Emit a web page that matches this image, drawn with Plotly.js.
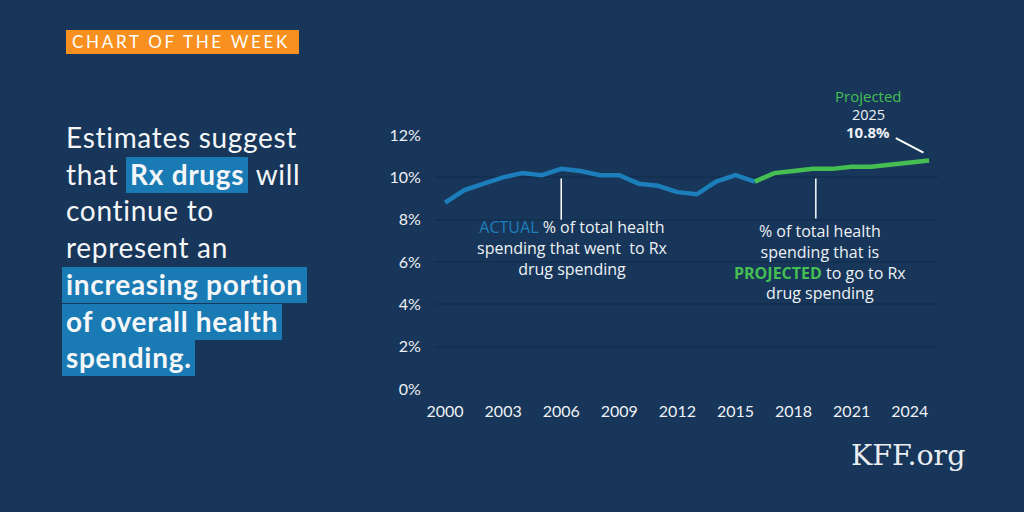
<!DOCTYPE html>
<html>
<head>
<meta charset="utf-8">
<script src="https://cdn.plot.ly/plotly-3.0.1.min.js"></script>
<style>
  html, body { margin: 0; padding: 0; background: #173659; }
  #page { position: relative; width: 1024px; height: 512px; overflow: hidden; background: #173659; }
  #chart { position: absolute; left: 0; top: 0; width: 1024px; height: 512px; }
  .overlay { position: absolute; pointer-events: none; z-index: 5; }
  #badge {
    left: 66px; top: 30px; width: 233px; height: 24px;
    background: #f7901e; color: #ffffff;
    font-family: Lato, "Open Sans", sans-serif; font-size: 17px;
    letter-spacing: 2.7px; line-height: 24px; box-sizing: border-box; padding-left: 6px;
    white-space: nowrap;
  }
  #headline {
    left: 66px; top: 119px; width: 320px;
    font-family: Lato, "Open Sans", sans-serif; font-size: 28px; line-height: 36.7px;
    letter-spacing: 0.7px; color: #f4f6f8; white-space: nowrap;
  }
  .hl { background: #1a7bb4; font-weight: 700; padding: 0 4px 2px 4px; }
  .hl.first { margin-left: -4px; }
  #brand {
    left: 851px; top: 439px;
    font-family: "DejaVu Serif", "Liberation Serif", serif; font-size: 28.5px;
    color: #e9edf2;
  }
</style>
</head>
<body>
<div id="page">
  <div id="chart"></div>
  <div id="badge" class="overlay">CHART OF THE WEEK</div>
  <div id="headline" class="overlay">Estimates suggest<br>that <span class="hl">Rx drugs</span> will<br>continue to<br>represent an<br><span class="hl first">increasing portion</span><br><span class="hl first">of overall health</span><br><span class="hl first">spending.</span></div>
  <div id="brand" class="overlay">KFF.org</div>
</div>
<script>
// Share of total health spending that goes to prescription drugs (%)
const actualYears = [2000, 2001, 2002, 2003, 2004, 2005, 2006, 2007, 2008,
                     2009, 2010, 2011, 2012, 2013, 2014, 2015, 2016];
const actualShare = [8.8, 9.4, 9.7, 10.0, 10.2, 10.1, 10.4, 10.3, 10.1,
                     10.1, 9.7, 9.6, 9.3, 9.2, 9.8, 10.1, 9.8];

const projectedYears = [2016, 2017, 2018, 2019, 2020, 2021, 2022, 2023, 2024, 2025];
const projectedShare = [9.8, 10.2, 10.3, 10.4, 10.4, 10.5, 10.5, 10.6, 10.7, 10.8];

const xTickYears = [2000, 2003, 2006, 2009, 2012, 2015, 2018, 2021, 2024];
const yTicks = [0, 2, 4, 6, 8, 10, 12];

// Callout text, one entry per line
const actualNote = ['<span style="color:#1f7fbd">ACTUAL</span> % of total health',
                    'spending that went&nbsp; to Rx',
                    'drug spending'];
const projectedNote = ['% of total health',
                       'spending that is',
                       '<b><span style="color:#45be52">PROJECTED</span></b> to go to Rx',
                       'drug spending'];

const BG = '#173659';
const BLUE = '#1c7eba';
const GREEN = '#45be52';
const TEXT = '#eef1f5';
const FONT = 'Lato, "Open Sans", sans-serif';
const NOTE_FONT = '"Open Sans", Lato, sans-serif';

const lastYear = projectedYears[projectedYears.length - 1];
const lastShare = projectedShare[projectedShare.length - 1];

const traces = [
  {
    x: actualYears, y: actualShare, type: 'scatter', mode: 'lines',
    line: { color: BLUE, width: 4.5 }, hoverinfo: 'skip', showlegend: false
  },
  {
    x: projectedYears, y: projectedShare, type: 'scatter', mode: 'lines',
    line: { color: GREEN, width: 4.5 }, hoverinfo: 'skip', showlegend: false
  }
];

const annotations = [
  { xref: 'x', yref: 'y', x: 2006.56, y: 6.65, xanchor: 'center', yanchor: 'middle',
    showarrow: false, align: 'center',
    font: { family: NOTE_FONT, size: 16, color: TEXT }, text: actualNote.join('<br>') },
  { xref: 'x', yref: 'y', x: 2019.37, y: 6.01, xanchor: 'center', yanchor: 'middle',
    showarrow: false, align: 'center',
    font: { family: NOTE_FONT, size: 16, color: TEXT }, text: projectedNote.join('<br>') },
  { xref: 'x', yref: 'paper', x: 2021.85, y: 1.155, xanchor: 'center', yanchor: 'middle',
    showarrow: false, font: { family: NOTE_FONT, size: 15, color: GREEN }, text: 'Projected' },
  { xref: 'x', yref: 'paper', x: 2021.85, y: 1.082, xanchor: 'center', yanchor: 'middle',
    showarrow: false, font: { family: NOTE_FONT, size: 14.5, color: TEXT }, text: String(lastYear) },
  { xref: 'x', yref: 'paper', x: 2021.85, y: 1.01, xanchor: 'center', yanchor: 'middle',
    showarrow: false, font: { family: NOTE_FONT, size: 15, color: TEXT },
    text: '<b>' + lastShare.toFixed(1) + '%</b>' }
];

const layout = {
  width: 1024, height: 512, autosize: false,
  paper_bgcolor: BG, plot_bgcolor: BG,
  margin: { l: 435, r: 86, t: 135, b: 123, pad: 0 },
  font: { family: FONT, color: TEXT, size: 15 },
  showlegend: false,
  xaxis: {
    range: [1999.48, 2025.46],
    tickvals: xTickYears, ticktext: xTickYears.map(String),
    showgrid: false, zeroline: false, showline: false,
    ticks: 'outside', ticklen: 8, tickcolor: 'rgba(0,0,0,0)',
    tickfont: { family: FONT, size: 16, color: TEXT },
    fixedrange: true
  },
  yaxis: {
    range: [0, 12],
    tickvals: yTicks, ticktext: yTicks.map(v => v + '%'),
    showgrid: true, gridcolor: '#12304f', gridwidth: 2,
    zeroline: false, showline: false,
    ticks: 'outside', ticklen: 10, tickcolor: 'rgba(0,0,0,0)',
    tickfont: { family: FONT, size: 16, color: TEXT },
    fixedrange: true
  },
  shapes: [
    { type: 'line', xref: 'x', yref: 'y', x0: 2006, x1: 2006, y0: 9.95, y1: 8.0,
      line: { color: '#ffffff', width: 1.5 } },
    { type: 'line', xref: 'x', yref: 'y', x0: 2019.15, x1: 2019.15, y0: 9.95, y1: 8.05,
      line: { color: '#ffffff', width: 1.5 } },
    { type: 'line', xref: 'x', yref: 'y', x0: 2023.28, x1: 2024.71, y0: 11.85, y1: 11.17,
      line: { color: '#ffffff', width: 2 } }
  ],
  annotations: annotations
};

Plotly.newPlot('chart', traces, layout, { staticPlot: true, displayModeBar: false });
</script>
</body>
</html>
